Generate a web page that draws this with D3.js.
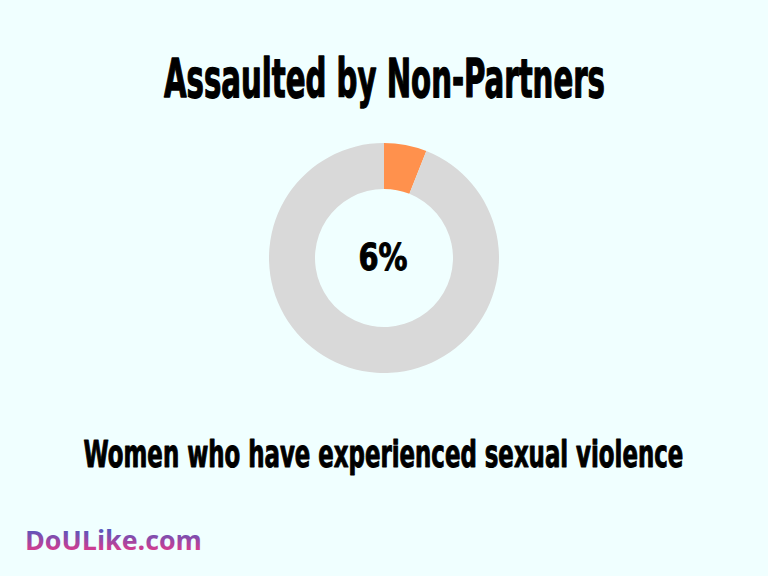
<!DOCTYPE html>
<html><head><meta charset="utf-8">
<script src="https://cdn.jsdelivr.net/npm/d3@7"></script>
<style>
html,body{margin:0;padding:0;background:#F0FFFF;}
svg{display:block;}
</style></head>
<body>
<script>
const categories = ["Assaulted by non-partners", "Other"];
const values = [6, 94];
const colors = ["#FF914D", "#D9D9D9"];
const titleText = "Assaulted by Non-Partners";
const centerLabel = "6%";
const subtitleText = "Women who have experienced sexual violence";
const logoText = "DoULike.com";

const W = 768, H = 576;
const svg = d3.select("body").append("svg").attr("width", W).attr("height", H);
svg.append("rect").attr("width", W).attr("height", H).attr("fill", "#F0FFFF");

const defs = svg.append("defs");
const grad = defs.append("linearGradient").attr("id","lg").attr("x1",0).attr("y1",0).attr("x2",0).attr("y2",1);
grad.append("stop").attr("offset","10%").attr("stop-color","#3A5CC8");
grad.append("stop").attr("offset","85%").attr("stop-color","#E3398A");

const font = "'Liberation Sans Narrow','DejaVu Sans Condensed','Arial Narrow',sans-serif";

// place text so its left edge is x0 and its width fits x1-x0 via horizontal scaling
function placeText(txt, x0, x1, baseline, size, family, fill, strokeW) {
  const t = svg.append("text").text(txt)
    .attr("x", 0).attr("y", 0)
    .attr("font-family", family).attr("font-weight", "bold").attr("font-size", size)
    .attr("fill", fill);
  if (strokeW) t.attr("stroke", fill).attr("stroke-width", strokeW).attr("stroke-linejoin","round");
  const w = t.node().getComputedTextLength();
  const sx = (x1 - x0) / w;
  t.attr("transform", `translate(${x0},${baseline}) scale(${sx},1)`);
  return t;
}

// title
placeText(titleText, 164, 605, 97, 53, font, "#000", 1.3);

// donut
const cx = 384, cy = 258, rOuter = 115, rInner = 69;
const pie = d3.pie().sort(null).value(d => d)(values);
const arc = d3.arc().innerRadius(rInner).outerRadius(rOuter);
const g = svg.append("g").attr("transform", `translate(${cx},${cy})`);
g.selectAll("path").data(pie).join("path")
  .attr("d", arc).attr("fill", (d, i) => colors[i]);

placeText(centerLabel, 358.5, 407.5, 270, 37, font, "#000", 1);
placeText(subtitleText, 83.5, 683.5, 467, 37, font, "#000", 1);
placeText(logoText, 25, 202, 550, 27, "'Open Sans','Noto Sans',sans-serif", "url(#lg)", 0);
</script>
</body></html>
